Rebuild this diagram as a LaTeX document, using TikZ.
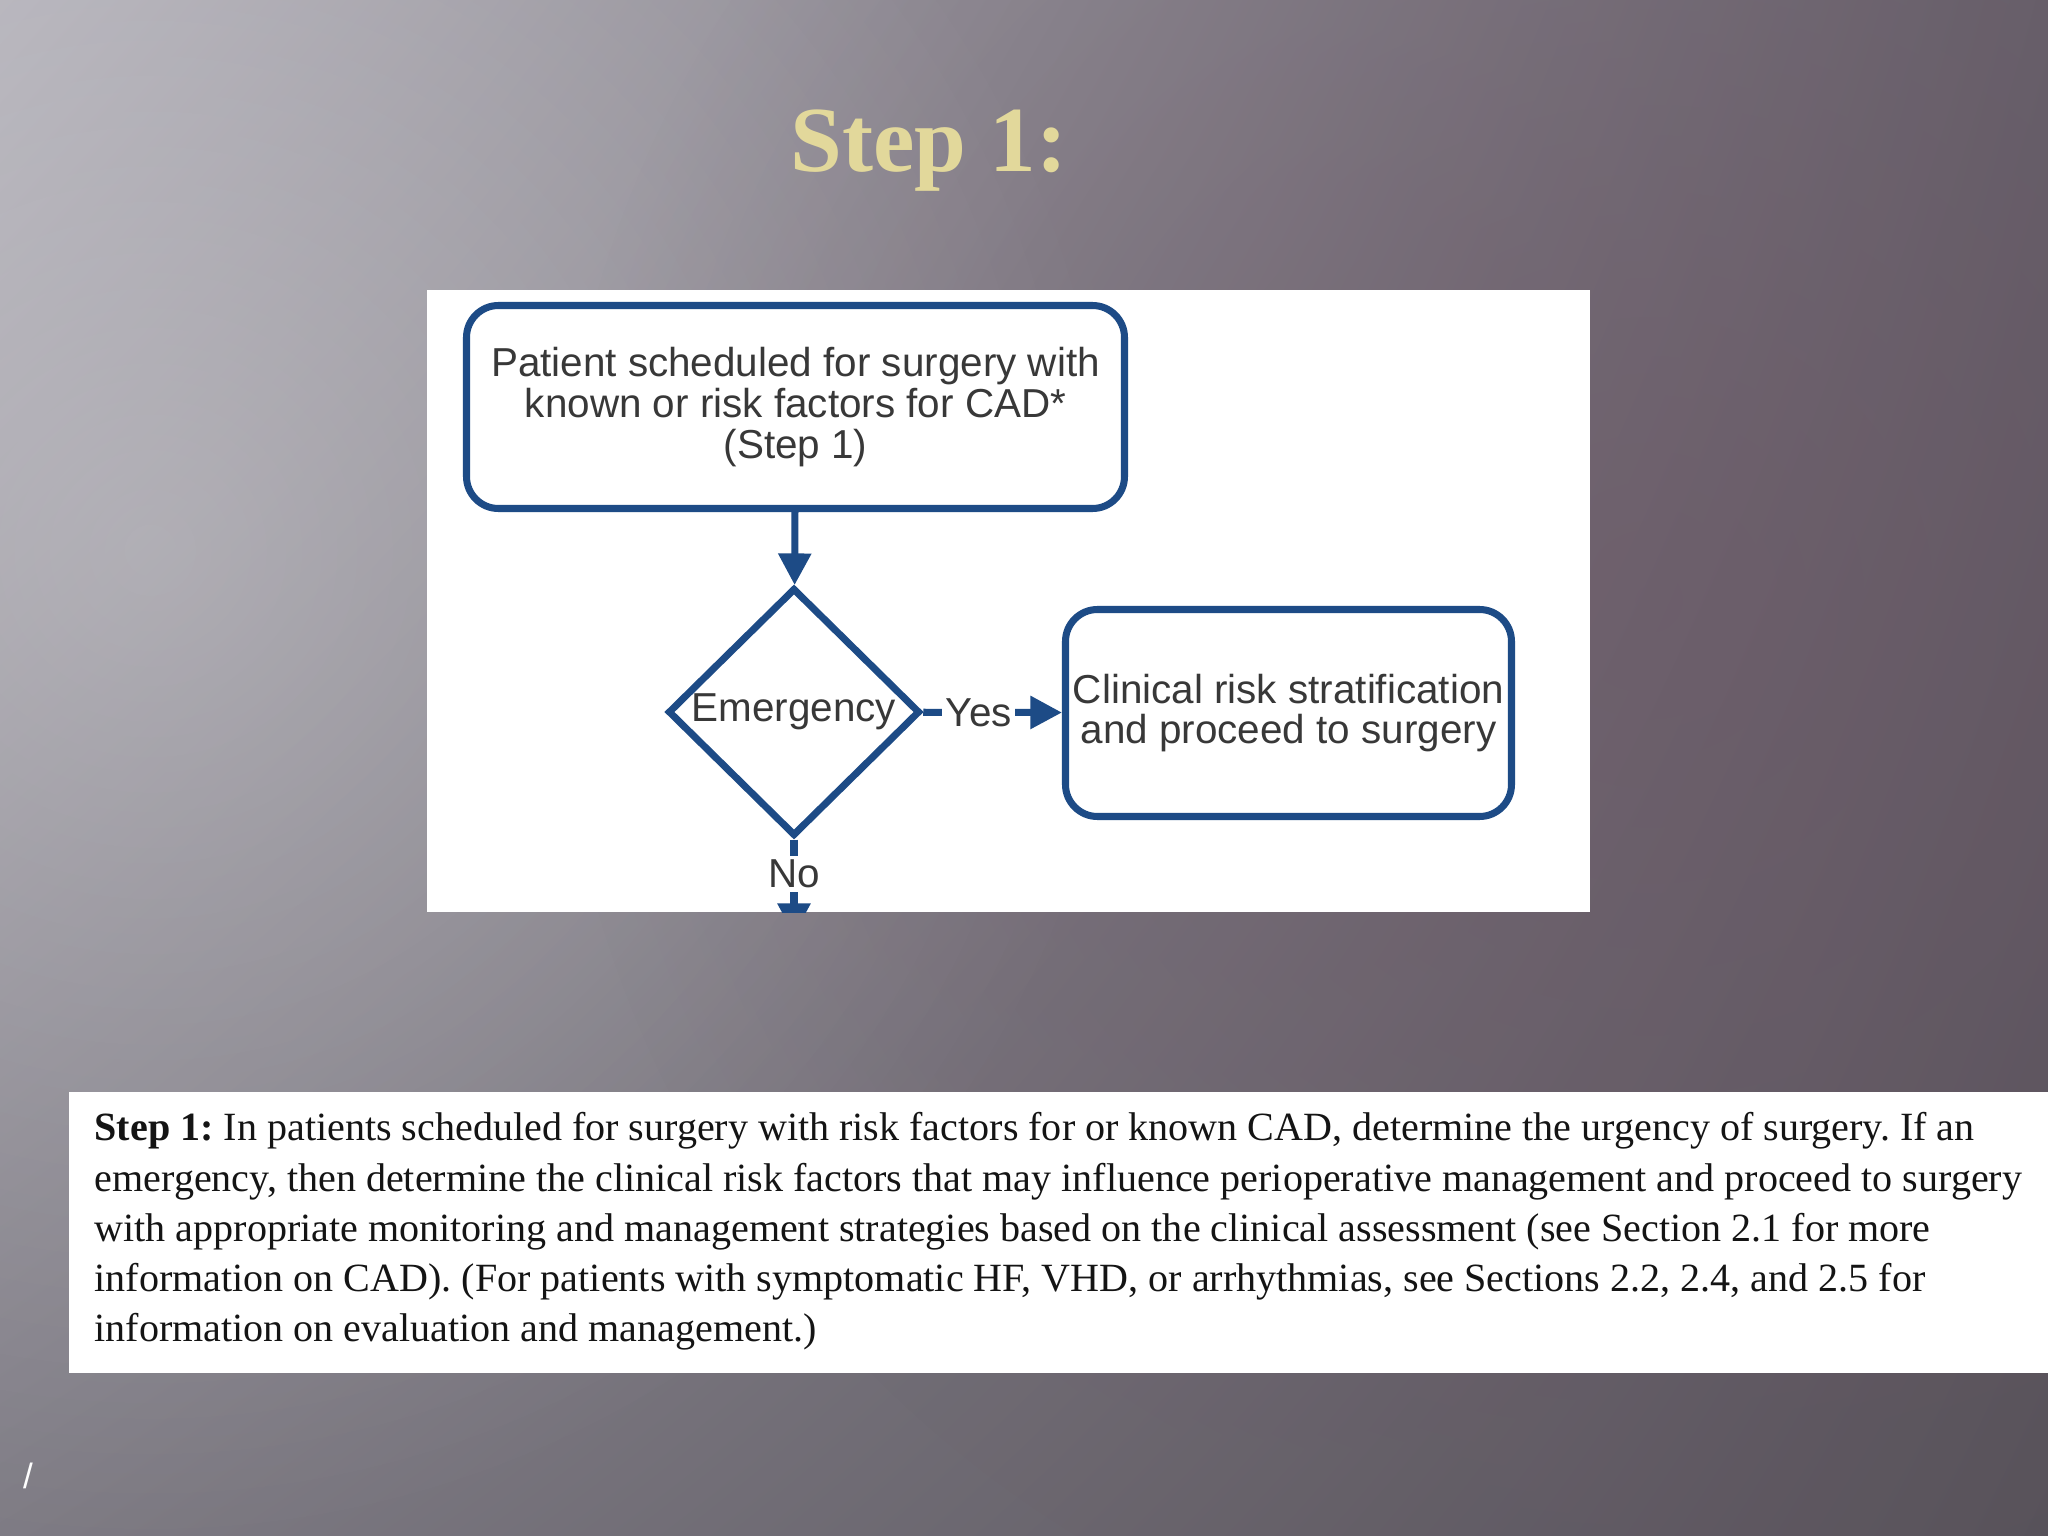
\documentclass[tikz,border=0pt]{standalone}
\usepackage{fontspec}
\setmainfont{Liberation Serif}
\newfontfamily\flowfont{Liberation Sans}
\usetikzlibrary{arrows.meta,shapes.geometric,shadings,fadings}
\definecolor{Cf}{HTML}{1D4B86}
\definecolor{Ct}{HTML}{E2D89B}
\definecolor{Cx}{HTML}{383838}
\definecolor{Bul}{HTML}{B2B0B8}
\definecolor{Bur}{HTML}{66606A}
\definecolor{Bll}{HTML}{7E7B84}
\definecolor{Blr}{HTML}{57525A}
\definecolor{Bpu}{HTML}{6E5666}
\tikzfading[name=softglow, inner color=transparent!0, outer color=transparent!100]
\frenchspacing

\begin{document}
\begin{tikzpicture}[
	stepbox/.style={draw=Cf, line width=2pt, rounded corners=0.32cm, fill=white,
		align=center, text=Cx, inner sep=0pt},
	decbox/.style={draw=Cf, line width=2pt, diamond, fill=white, text=Cx,
		inner sep=0pt, minimum width=2.52cm, minimum height=2.48cm},
	flowline/.style={Cf, line width=2pt, -{Triangle[length=9pt,width=9pt]}},
	lbl/.style={fill=white, text=Cx, inner sep=1pt, font=\flowfont\fontsize{11.5}{11.6}\selectfont}
	]
	
	\useasboundingbox (0,0) rectangle (20.48,-15.36);
	
	%% slide background
	\shade[upper left=Bul, upper right=Bur, lower left=Bll, lower right=Blr]
	(0,0) rectangle (20.48,-15.36);
	\begin{scope}
		\clip (0,0) rectangle (20.48,-15.36);
		\fill[white, opacity=0.22, path fading=softglow] (1.5,-5.5) circle (10);
		\fill[Bpu, opacity=0.45, path fading=softglow] (16.5,-6.0) circle (11);
	\end{scope}
	
	%% title
	\node[font=\bfseries\fontsize{26.5}{30}\selectfont, Ct, anchor=base] (title)
	at (9.29,-1.72) {Step 1:};
	
	%% ── flowchart panel ──────────────────────────────────────────────────
	\fill[white] (4.27,-2.90) rectangle (15.90,-9.12);
	\begin{scope}
		\clip (4.27,-2.90) rectangle (15.90,-9.12);
		\begin{scope}[font=\flowfont\fontsize{11.5}{11.6}\selectfont]
			
			\node[stepbox, minimum width=6.58cm, minimum height=2.03cm] (sched)
			at (7.955,-4.07)
			{Patient scheduled for surgery with\\known or risk factors for CAD*\\(Step 1)};
			
			\node[decbox] (emerg) at (7.94,-7.12) {Emergency};
			
			\node[stepbox, minimum width=4.46cm, minimum height=2.07cm] (strat)
			at (12.885,-7.13)
			{Clinical risk stratification\\and proceed to surgery};
			
			\coordinate (down) at (7.94,-9.35);
			
			%% connectors
			\draw[flowline] (sched) -- (emerg);
			\draw[flowline] (emerg) -- node[lbl, pos=0.40] (yes) {Yes} (strat);
			\draw[flowline] (emerg) -- node[lbl, pos=0.36] (no) {No} (down);
		\end{scope}
	\end{scope}
	
	%% ── caption panel ────────────────────────────────────────────────────
	\fill[white] (0.69,-10.92) rectangle (20.48,-13.73);
	\node[anchor=north west, align=left, inner sep=0pt, text=black!92,
	font=\fontsize{11.4}{14.25}\selectfont] (caption) at (0.94,-11.12)
	{\textbf{Step 1:} In patients scheduled for surgery with risk factors for or known CAD, determine the urgency of surgery. If an\\
		emergency, then determine the clinical risk factors that may influence perioperative management and proceed to surgery\\
		with appropriate monitoring and management strategies based on the clinical assessment (see Section 2.1 for more\\
		information on CAD). (For patients with symptomatic HF, VHD, or arrhythmias, see Sections 2.2, 2.4, and 2.5 for\\
		information on evaluation and management.)};
	
	%% slide number mark
	\node[font=\flowfont\fontsize{10}{12}\selectfont, white] (mark) at (0.28,-14.76) {/};
	
\end{tikzpicture}
\end{document}
